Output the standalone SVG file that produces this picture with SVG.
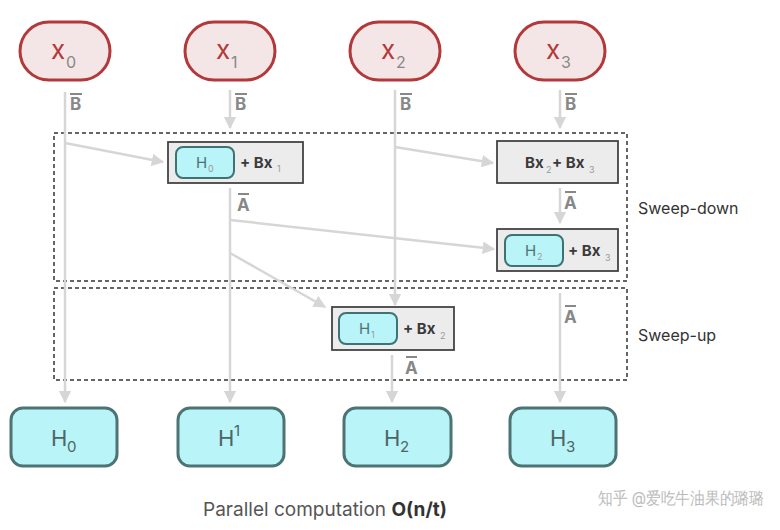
<svg xmlns="http://www.w3.org/2000/svg" width="780" height="530" viewBox="0 0 780 530">
<style>
text{font-family:Inter,"Liberation Sans",sans-serif}
.x{fill:#f4e6e6;stroke:#b3383a;stroke-width:3}
.xt{fill:#b3383a;font-size:26px}
.sub{fill:#888;font-size:16px}
.h{fill:#b9f4f8;stroke:#4d7474;stroke-width:3}
.ht{fill:#4d6464;font-size:22px}
.hs{fill:#4d6464;font-size:15px}
.box{fill:#ececec;stroke:#444;stroke-width:1.8}
.ih{fill:#b9f4f8;stroke:#3f7373;stroke-width:2}
.iht{fill:#4d7373;font-size:15px}
.bt{fill:#3a3a3a;font-size:15px;font-weight:bold}
.bs{fill:#999;font-size:9px}
.lb{fill:#888;font-size:17px;font-weight:bold}
.c{stroke:#d6d6d6;stroke-width:2.5;fill:none}
.d{fill:none;stroke:#333;stroke-width:1.5;stroke-dasharray:4 3}
</style>
<defs><marker id="a" viewBox="0 0 10 10" refX="9" refY="5" markerWidth="5" markerHeight="5" orient="auto"><path d="M0 0L10 5L0 10z" fill="#d6d6d6"/></marker></defs>
<rect class="d" x="54" y="133" width="573" height="148"/>
<rect class="d" x="54" y="288" width="573" height="92"/>
<g id="connectors">
<path class="c" d="M65 92V402" marker-end="url(#a)"/>
<path class="c" d="M65 143L163 162" marker-end="url(#a)"/>
<path class="c" d="M230 90V128" marker-end="url(#a)"/>
<path class="c" d="M230 188V402" marker-end="url(#a)"/>
<path class="c" d="M230 220L494 249" marker-end="url(#a)"/>
<path class="c" d="M230 253L325 307" marker-end="url(#a)"/>
<path class="c" d="M395 90V305" marker-end="url(#a)"/>
<path class="c" d="M395 147L493 163" marker-end="url(#a)"/>
<path class="c" d="M392 355V402" marker-end="url(#a)"/>
<path class="c" d="M560 90V128" marker-end="url(#a)"/>
<path class="c" d="M560 188V223" marker-end="url(#a)"/>
<path class="c" d="M560 293V402" marker-end="url(#a)"/>
</g>
<g id="labels">
<text class="lb" x="70" y="110">B</text><path d="M70 94h12" stroke="#888" stroke-width="2"/>
<text class="lb" x="235" y="110">B</text><path d="M235 94h12" stroke="#888" stroke-width="2"/>
<text class="lb" x="400" y="110">B</text><path d="M400 94h12" stroke="#888" stroke-width="2"/>
<text class="lb" x="565" y="110">B</text><path d="M565 94h12" stroke="#888" stroke-width="2"/>
<text class="lb" x="237" y="211">A</text><path d="M238 194h11" stroke="#888" stroke-width="2"/>
<text class="lb" x="564" y="209">A</text><path d="M565 192h11" stroke="#888" stroke-width="2"/>
<text class="lb" x="564" y="323">A</text><path d="M565 306h11" stroke="#888" stroke-width="2"/>
<text class="lb" x="405" y="374">A</text><path d="M406 357h11" stroke="#888" stroke-width="2"/>
<text x="638" y="214" fill="#333" font-size="16">Sweep-down</text>
<text x="638" y="341" fill="#333" font-size="16">Sweep-up</text>
</g>
<g id="x0"><rect class="x" x="20" y="22" width="90" height="58" rx="29"/><text class="xt" x="51" y="59">x</text><text class="sub" x="66" y="68">0</text></g>
<g id="x1"><rect class="x" x="185" y="22" width="90" height="58" rx="29"/><text class="xt" x="216" y="59">x</text><text class="sub" x="231" y="68">1</text></g>
<g id="x2"><rect class="x" x="350" y="22" width="90" height="58" rx="29"/><text class="xt" x="381" y="59">x</text><text class="sub" x="396" y="68">2</text></g>
<g id="x3"><rect class="x" x="515" y="22" width="90" height="58" rx="29"/><text class="xt" x="546" y="59">x</text><text class="sub" x="561" y="68">3</text></g>
<g id="b1"><rect class="box" x="168" y="142" width="135" height="41"/><rect class="ih" x="176" y="147" width="58" height="31" rx="7"/><text class="iht" x="196" y="168">H</text><text class="bs" x="208" y="172">0</text><text class="bt" x="240" y="168">+ Bx</text><text class="bs" x="277" y="172">1</text></g>
<g id="b2"><rect class="box" x="497" y="141" width="121" height="42"/><text class="bt" x="525" y="168">Bx</text><text class="bs" x="546" y="173">2</text><text class="bt" x="552" y="168">+ Bx</text><text class="bs" x="589" y="173">3</text></g>
<g id="b3"><rect class="box" x="497" y="229" width="121" height="42"/><rect class="ih" x="505" y="235" width="58" height="31" rx="7"/><text class="iht" x="525" y="256">H</text><text class="bs" x="537" y="260">2</text><text class="bt" x="568" y="256">+ Bx</text><text class="bs" x="605" y="261">3</text></g>
<g id="b4"><rect class="box" x="332" y="307" width="122" height="43"/><rect class="ih" x="339" y="313" width="58" height="31" rx="7"/><text class="iht" x="359" y="334">H</text><text class="bs" x="371" y="338">1</text><text class="bt" x="403" y="334">+ Bx</text><text class="bs" x="440" y="339">2</text></g>
<g id="h0"><rect class="h" x="11" y="408" width="106" height="58" rx="12"/><text class="ht" x="51" y="446">H</text><text class="hs" x="67" y="452">0</text></g>
<g id="h1"><rect class="h" x="178" y="408" width="106" height="58" rx="12"/><text class="ht" x="218" y="446">H</text><text class="hs" x="234" y="436">1</text></g>
<g id="h2"><rect class="h" x="344" y="408" width="107" height="58" rx="12"/><text class="ht" x="384" y="446">H</text><text class="hs" x="400" y="452">2</text></g>
<g id="h3"><rect class="h" x="510" y="408" width="106" height="58" rx="12"/><text class="ht" x="550" y="446">H</text><text class="hs" x="566" y="452">3</text></g>
<text x="325" y="516" text-anchor="middle" fill="#555" font-size="19">Parallel computation <tspan font-weight="bold" fill="#333">O(n/t)</tspan></text>
<text x="598" y="504" fill="#bbb" font-size="17" textLength="166" lengthAdjust="spacingAndGlyphs" font-family="'Noto Sans CJK SC',sans-serif">知乎 @爱吃牛油果的璐璐</text>
</svg>
